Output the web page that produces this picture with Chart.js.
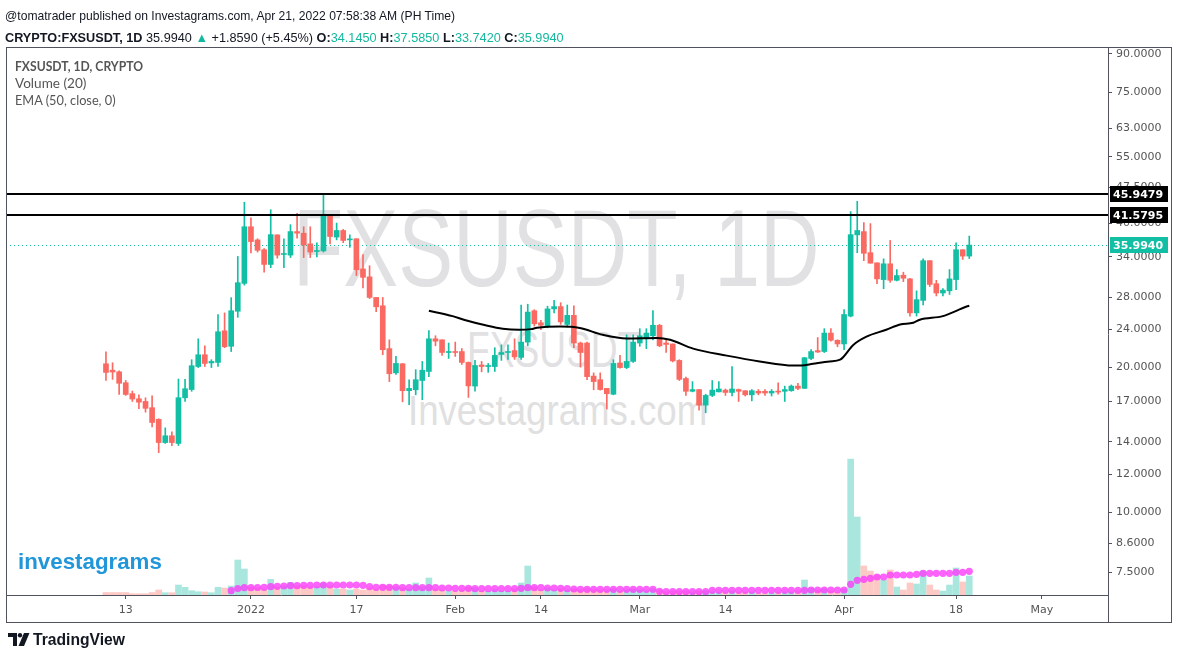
<!DOCTYPE html>
<html>
<head>
<meta charset="utf-8">
<script src="https://cdn.jsdelivr.net/npm/chart.js@4.4.0/dist/chart.umd.min.js"></script>
<style>
  body { margin: 0; background: #fff; width: 1177px; height: 659px; overflow: hidden; position: relative; font-family: Arial, "Liberation Sans", sans-serif; }
  .t { position: absolute; white-space: nowrap; line-height: 1; transform-origin: 0 50%; }
  .wm { z-index: 0; color: #e1e1e3; }
  #chartBox { position: absolute; left: 0; top: 0; width: 1177px; height: 659px; z-index: 1; }
  .top { z-index: 2; }
  .g { color: #13b89e; }
  b { font-weight: bold; }
</style>
</head>
<body>
<div class="t wm" id="wmBig" data-w="527" style="left:293px;top:194px;font-size:109px;">FXSUSDT, 1D</div>
<div class="t wm" id="wmMid" data-w="173" style="left:467px;top:325px;font-size:50px;">FXSUSDT</div>
<div class="t wm" id="wmSite" data-w="299" style="left:408px;top:390px;font-size:42px;color:#e0e0e0;">Investagrams.com</div>

<div id="chartBox"><canvas id="c" width="1177" height="659"></canvas></div>

<div class="t top" id="h1" data-w="450" style="left:5px;top:9px;font-size:13px;color:#131722;">@tomatrader published on Investagrams.com, Apr 21, 2022 07:58:38 AM (PH Time)</div>
<div class="t top" id="h2" data-w="558" style="left:5px;top:31px;font-size:13px;color:#131722;"><b>CRYPTO:FXSUSDT, 1D</b> 35.9940 <span class="g">&#9650;</span> +1.8590 (+5.45%) <b>O:</b><span class="g">34.1450</span> <b>H:</b><span class="g">37.5850</span> <b>L:</b><span class="g">33.7420</span> <b>C:</b><span class="g">35.9940</span></div>
<div class="t top" id="lg1" data-w="128" style="left:15px;top:60px;font-size:13px;color:#555;font-family:Lato,sans-serif;font-weight:bold;">FXSUSDT, 1D, CRYPTO</div>
<div class="t top" id="lg2" data-w="71" style="left:15px;top:77px;font-size:13px;color:#555;font-family:Lato,sans-serif;">Volume (20)</div>
<div class="t top" id="lg3" data-w="101" style="left:15px;top:94px;font-size:13px;color:#555;font-family:Lato,sans-serif;">EMA (50, close, 0)</div>
<div class="t top" id="logo" data-w="144" style="left:18px;top:551px;font-size:22px;color:#2196d8;font-weight:bold;">investagrams</div>
<svg class="top" style="position:absolute;left:8px;top:633px;" width="22" height="13" viewBox="0 0 22 13">
  <path d="M0 0h9v13H5V4H0z" fill="#131722"/>
  <circle cx="12" cy="2.2" r="2.2" fill="#131722"/>
  <path d="M16 0h5.5l-5.5 13h-5.5z" fill="#131722"/>
</svg>
<div class="t top" id="tv" data-w="92" style="left:33px;top:632px;font-size:16px;color:#131722;font-weight:bold;">TradingView</div>

<script>
// daily candles, day 0 = 2021-12-10, last = 2022-04-20
const opens = [20.37,19.75,19.60,18.60,17.65,17.22,17.00,16.50,15.60,13.96,
  14.42,13.90,17.30,18.00,20.10,21.27,20.45,20.50,23.86,22.15,
  26.20,29.95,39.30,36.90,35.20,32.80,37.80,34.40,34.30,38.40,
  38.10,36.20,34.90,35.00,41.45,37.40,38.60,36.90,37.10,32.10,
  30.90,28.00,26.90,21.90,19.50,20.37,17.90,17.98,18.80,19.63,
  22.96,22.85,21.50,21.60,21.60,20.50,18.30,20.25,20.10,20.10,
  21.30,21.50,21.70,21.00,22.60,26.27,24.80,24.40,26.50,26.80,
  24.60,25.70,22.50,22.50,19.20,18.87,18.10,17.60,20.45,20.00,
  20.60,22.50,23.00,23.30,24.50,22.50,22.40,20.70,18.98,17.85,
  18.00,16.70,17.50,17.80,17.95,17.75,18.00,17.90,17.55,17.85,
  17.85,17.70,17.85,17.85,17.90,18.30,18.10,20.90,21.70,21.60,
  23.60,22.80,22.40,25.60,37.80,38.40,34.70,33.05,30.50,32.90,
  30.40,31.15,30.60,26.00,27.60,33.40,29.90,28.60,28.90,30.50,
  35.20,34.145];
const highs = [21.58,20.47,19.70,18.80,17.87,17.55,17.30,17.47,15.65,14.98,
  14.70,18.93,18.90,20.77,22.96,22.20,20.77,25.80,26.00,27.97,
  34.08,44.20,41.00,37.10,35.40,42.65,37.80,37.10,39.70,41.90,
  39.30,39.30,36.40,46.00,41.60,40.00,38.80,37.80,37.10,34.38,
  32.60,28.00,28.00,22.85,21.10,20.40,18.87,19.80,20.60,23.87,
  23.30,22.85,22.50,22.60,21.90,20.55,20.70,20.60,20.40,22.00,
  22.30,22.30,22.96,27.00,27.10,26.40,25.10,26.85,27.60,27.30,
  27.00,26.90,22.60,22.60,19.50,19.50,18.10,20.77,21.20,23.40,
  23.40,24.10,24.10,26.30,24.60,22.85,22.40,20.77,19.10,18.70,
  18.00,17.60,18.80,18.70,18.05,20.10,18.05,17.90,18.00,18.00,
  18.00,18.00,18.60,18.30,18.40,18.55,21.00,21.80,23.10,24.10,
  24.10,22.85,26.40,42.26,44.40,40.10,39.90,33.05,33.70,36.80,
  32.00,31.60,30.70,28.90,33.70,33.40,30.40,29.20,32.00,36.40,
  35.20,37.585];
const lows = [18.81,18.90,17.58,17.50,17.00,16.42,16.15,15.05,13.30,13.90,
  13.76,13.76,17.00,17.85,20.00,20.10,20.00,20.10,22.00,21.60,
  25.45,29.70,34.66,34.80,31.60,32.30,33.80,32.30,33.90,37.20,
  33.90,33.90,34.00,34.80,36.20,36.90,36.40,35.60,31.10,29.30,
  27.85,26.15,21.27,18.70,19.35,16.97,16.75,17.55,17.14,19.15,
  22.20,21.20,20.90,21.10,20.30,17.33,17.85,19.60,19.55,19.63,
  20.70,20.80,20.80,20.80,22.20,24.40,24.00,24.20,26.00,24.60,
  24.30,22.00,20.05,18.87,17.98,17.95,16.40,17.55,19.95,19.90,
  20.50,22.15,21.90,22.85,22.10,21.50,20.55,18.80,17.50,17.80,
  16.30,16.10,17.40,17.80,17.50,17.45,17.00,17.45,17.05,17.55,
  17.50,17.45,17.60,17.00,17.85,18.00,18.10,20.77,21.50,21.50,
  22.70,22.10,21.80,25.50,34.70,33.40,33.00,29.90,29.20,30.10,
  30.30,30.20,25.60,25.60,27.00,29.50,28.20,28.20,28.40,29.06,
  33.60,33.742];
const closes = [19.54,19.58,18.55,17.58,17.20,16.94,16.45,15.37,13.96,14.42,
  13.96,17.31,18.07,20.18,21.27,20.40,20.60,23.75,22.10,26.27,
  30.05,39.30,36.60,35.10,32.80,37.84,34.30,34.50,38.40,38.10,
  36.00,34.80,35.00,41.45,37.50,38.60,36.80,37.05,31.98,30.83,
  28.00,26.77,21.79,19.42,20.40,17.90,18.10,18.87,19.75,22.96,
  22.70,21.50,21.60,21.50,20.50,18.32,20.20,20.10,20.20,21.20,
  21.50,21.60,21.05,22.60,26.10,24.67,24.50,26.50,26.80,24.90,
  25.70,22.50,21.50,19.15,18.70,18.00,17.65,20.40,20.00,20.60,
  22.60,23.30,23.60,24.50,22.20,22.35,20.65,18.90,17.85,18.00,
  16.70,17.50,17.95,18.05,17.75,18.05,17.85,17.55,17.90,17.70,
  17.70,17.85,17.78,18.00,18.30,18.10,20.97,21.60,21.55,23.60,
  22.80,22.40,25.80,37.84,38.60,34.60,33.00,30.60,32.90,30.40,
  31.10,30.70,26.00,27.70,33.40,29.80,28.60,29.00,30.60,35.20,
  34.135,35.994];
// volume, millions (rough read)
const volumes = [0.25,0.25,0.25,0.25,0.13,0.13,0.13,0.25,0.5,0.23,
  0.23,1.0,0.77,0.43,0.33,0.3,0.23,0.77,0.7,0.9,
  3.5,2.6,0.8,0.7,0.6,1.57,0.8,0.9,1.27,0.9,
  0.9,0.8,0.8,1.2,0.9,0.6,0.6,0.5,0.6,0.5,
  0.7,0.6,1.0,0.9,0.8,0.7,0.6,1.2,0.8,1.7,
  0.6,0.5,0.4,0.4,0.5,0.8,0.7,0.4,0.4,0.5,
  0.4,0.4,0.6,1.2,2.9,0.8,0.5,0.7,0.5,0.6,
  0.5,0.6,0.5,0.7,0.5,0.5,0.5,0.6,0.4,0.5,
  0.6,0.5,0.4,0.6,0.5,0.3,0.4,0.4,0.4,0.3,
  0.4,0.4,0.3,0.3,0.3,0.4,0.3,0.3,0.3,0.2,
  0.2,0.2,0.3,0.3,0.3,0.4,1.5,0.7,0.5,0.6,
  0.4,0.3,0.6,13.6,7.8,2.9,2.4,2.0,1.5,2.5,
  0.8,0.5,1.2,1.1,2.4,1.0,0.5,0.4,1.0,2.7,
  1.3,1.9];
// Volume (20) average, from day 19
const volumeMaStart = 19;
const volumeMa = [0.43,0.65,0.73,0.73,0.75,0.77,0.83,0.87,0.9,0.93,
  0.93,0.97,0.97,1.0,1.0,1.0,1.0,1.0,1.0,1.0,
  0.97,0.83,0.77,0.77,0.77,0.77,0.73,0.73,0.73,0.73,
  0.73,0.73,0.7,0.7,0.67,0.67,0.67,0.63,0.63,0.63,
  0.63,0.63,0.63,0.63,0.67,0.73,0.73,0.73,0.7,0.7,
  0.67,0.63,0.6,0.57,0.57,0.57,0.57,0.57,0.57,0.57,
  0.57,0.57,0.57,0.57,0.57,0.37,0.33,0.33,0.33,0.33,
  0.33,0.33,0.33,0.47,0.47,0.47,0.47,0.47,0.47,0.47,
  0.47,0.47,0.47,0.47,0.47,0.47,0.47,0.47,0.5,0.5,
  0.5,0.5,0.5,0.5,1.07,1.47,1.57,1.67,1.8,1.8,
  2.0,2.0,2.0,2.0,2.07,2.17,2.17,2.17,2.17,2.17,
  2.27,2.27,2.37];
// EMA (50, close)
const emaDays = [49,52.6,54.3,57.6,60.2,62.7,64.5,65.4,68.9,71.9,75.4,79,83.6,85.6,89.1,94.2,99.2,104.3,105.5,107.3,109.8,111.4,113.4,115.4,118.4,120.5,122.5,123.5,127,130.6,131];
const emaValues = [26.27,25.6,25.16,24.5,24.1,23.98,24.05,24.2,24.35,24.18,23.4,23.0,23.05,22.85,21.9,21.18,20.6,20.2,20.2,20.37,20.6,20.77,22.3,23.2,23.98,24.6,24.8,25.16,25.6,26.8,26.9];

const levels = [45.9479, 41.5795];
const lastClose = 35.994;
const tickDays = [3, 22, 38, 53, 66, 81, 94, 112, 129, 142];
const tickNames = ['13', '2022', '17', 'Feb', '14', 'Mar', '14', 'Apr', '18', 'May'];
const priceTicks = [7.5, 8.6, 10, 12, 14, 17, 20, 24, 28, 34, 40, 47.5, 55, 63, 75, 90];

const green = '#13bfa4';
const red = '#fa6a62';
const frameColor = '#50535e';

// squeeze texts to the widths seen in the picture
document.querySelectorAll('[data-w]').forEach(el => {
  const w = +el.dataset.w;
  el.style.transform = 'scaleX(' + (w / el.offsetWidth).toFixed(3) + ')';
});

const up = closes.map((c, i) => c >= opens[i]);
const candleColors = up.map(u => u ? green : red);
const volColors = up.map(u => u ? '#a9e7de' : '#fdc9c5');

const overlay = {
  id: 'overlay',
  beforeDatasetsDraw(chart) {
    const { ctx, chartArea: a } = chart;
    const py = Math.round(chart.scales.y.getPixelForValue(lastClose)) + 0.5;
    ctx.save();
    ctx.strokeStyle = green;
    ctx.lineWidth = 1;
    ctx.setLineDash([1, 3]);
    ctx.beginPath();
    ctx.moveTo(a.left, py);
    ctx.lineTo(a.right, py);
    ctx.stroke();
    ctx.restore();
  },
  afterDatasetsDraw(chart) {
    const { ctx, chartArea: a } = chart;
    ctx.save();
    ctx.strokeStyle = '#000';
    ctx.lineWidth = 2;
    levels.forEach(v => {
      const py = Math.round(chart.scales.y.getPixelForValue(v));
      ctx.beginPath();
      ctx.moveTo(a.left, py);
      ctx.lineTo(a.right, py);
      ctx.stroke();
    });
    ctx.restore();
  },
  afterDraw(chart) {
    const { ctx, chartArea: a } = chart;
    const y = chart.scales.y;
    ctx.save();
    ctx.strokeStyle = frameColor;
    ctx.lineWidth = 1;
    ctx.strokeRect(a.left + 0.5, a.top + 0.5, 1165, 575);
    ctx.beginPath();
    ctx.moveTo(a.right + 0.5, a.top);
    ctx.lineTo(a.right + 0.5, a.top + 575);
    ctx.moveTo(a.left, a.bottom + 0.5);
    ctx.lineTo(a.right, a.bottom + 0.5);
    ctx.stroke();

    // price labels on the axis
    ctx.font = 'bold 11px "DejaVu Sans"';
    ctx.textBaseline = 'middle';
    const boxes = levels.map(v => [v, '#000']).concat([[lastClose, green]]);
    boxes.forEach(([v, col]) => {
      const py = Math.round(y.getPixelForValue(v));
      ctx.fillStyle = col;
      ctx.fillRect(a.right + 2, py - 8, 58, 16);
      ctx.fillStyle = '#fff';
      ctx.fillText(v.toFixed(4), a.right + 5, py + 1);
    });
    ctx.restore();
  }
};

new Chart(document.getElementById('c'), {
  type: 'bar',
  data: {
    datasets: [
      {
        type: 'bar', label: 'Volume', yAxisID: 'yv', order: 5, grouped: false,
        data: volumes.map((v, i) => ({ x: i, y: v })),
        backgroundColor: volColors, barThickness: 6
      },
      {
        type: 'line', label: 'Volume (20)', yAxisID: 'yv', order: 4,
        data: volumeMa.map((v, i) => ({ x: i + volumeMaStart, y: v })),
        showLine: false, pointRadius: 3.6, pointBorderWidth: 0,
        pointBackgroundColor: 'rgba(250,60,250,0.8)'
      },
      {
        type: 'bar', label: 'wick', yAxisID: 'y', order: 3, grouped: false,
        data: lows.map((l, i) => ({ x: i, y: [l, highs[i]] })),
        backgroundColor: candleColors, barThickness: 1
      },
      {
        type: 'bar', label: 'body', yAxisID: 'y', order: 2, grouped: false,
        data: opens.map((o, i) => ({ x: i, y: [o, closes[i]] })),
        backgroundColor: candleColors, barThickness: 5, minBarLength: 1
      },
      {
        type: 'line', label: 'EMA (50, close, 0)', yAxisID: 'y', order: 1,
        data: emaDays.map((d, i) => ({ x: d, y: emaValues[i] })),
        borderColor: '#000', borderWidth: 2, pointRadius: 0,
        cubicInterpolationMode: 'monotone'
      }
    ]
  },
  options: {
    responsive: false,
    animation: false,
    devicePixelRatio: 1,
    events: [],
    layout: { padding: { left: 6, top: 47, right: 6, bottom: 37 } },
    plugins: { legend: { display: false }, tooltip: { enabled: false } },
    scales: {
      x: {
        type: 'linear', min: -15.17, max: 152.05, offset: false,
        border: { display: false },
        grid: { offset: false, drawOnChartArea: false, drawTicks: true, tickLength: 4, color: frameColor },
        ticks: {
          autoSkip: false, maxRotation: 0, padding: 5, color: '#555',
          font: { family: '"DejaVu Sans"', size: 11 },
          callback: v => tickNames[tickDays.indexOf(v)] || ''
        },
        afterBuildTicks: s => { s.ticks = tickDays.map(v => ({ value: v })); },
        afterFit: s => { s.height = 27; }
      },
      y: {
        type: 'logarithmic', position: 'right', min: 6.719, max: 93.07,
        border: { display: false },
        grid: { drawOnChartArea: false, drawTicks: true, tickLength: 4, color: frameColor },
        ticks: {
          autoSkip: false, padding: 4, color: '#555',
          font: { family: '"DejaVu Sans"', size: 11 },
          callback: v => Number(v).toFixed(4)
        },
        afterBuildTicks: s => { s.ticks = priceTicks.map(v => ({ value: v })); },
        afterFit: s => { s.width = 63; }
      },
      yv: { type: 'linear', display: false, min: 0, max: 54.8 }
    }
  },
  plugins: [overlay]
});
</script>
</body>
</html>
